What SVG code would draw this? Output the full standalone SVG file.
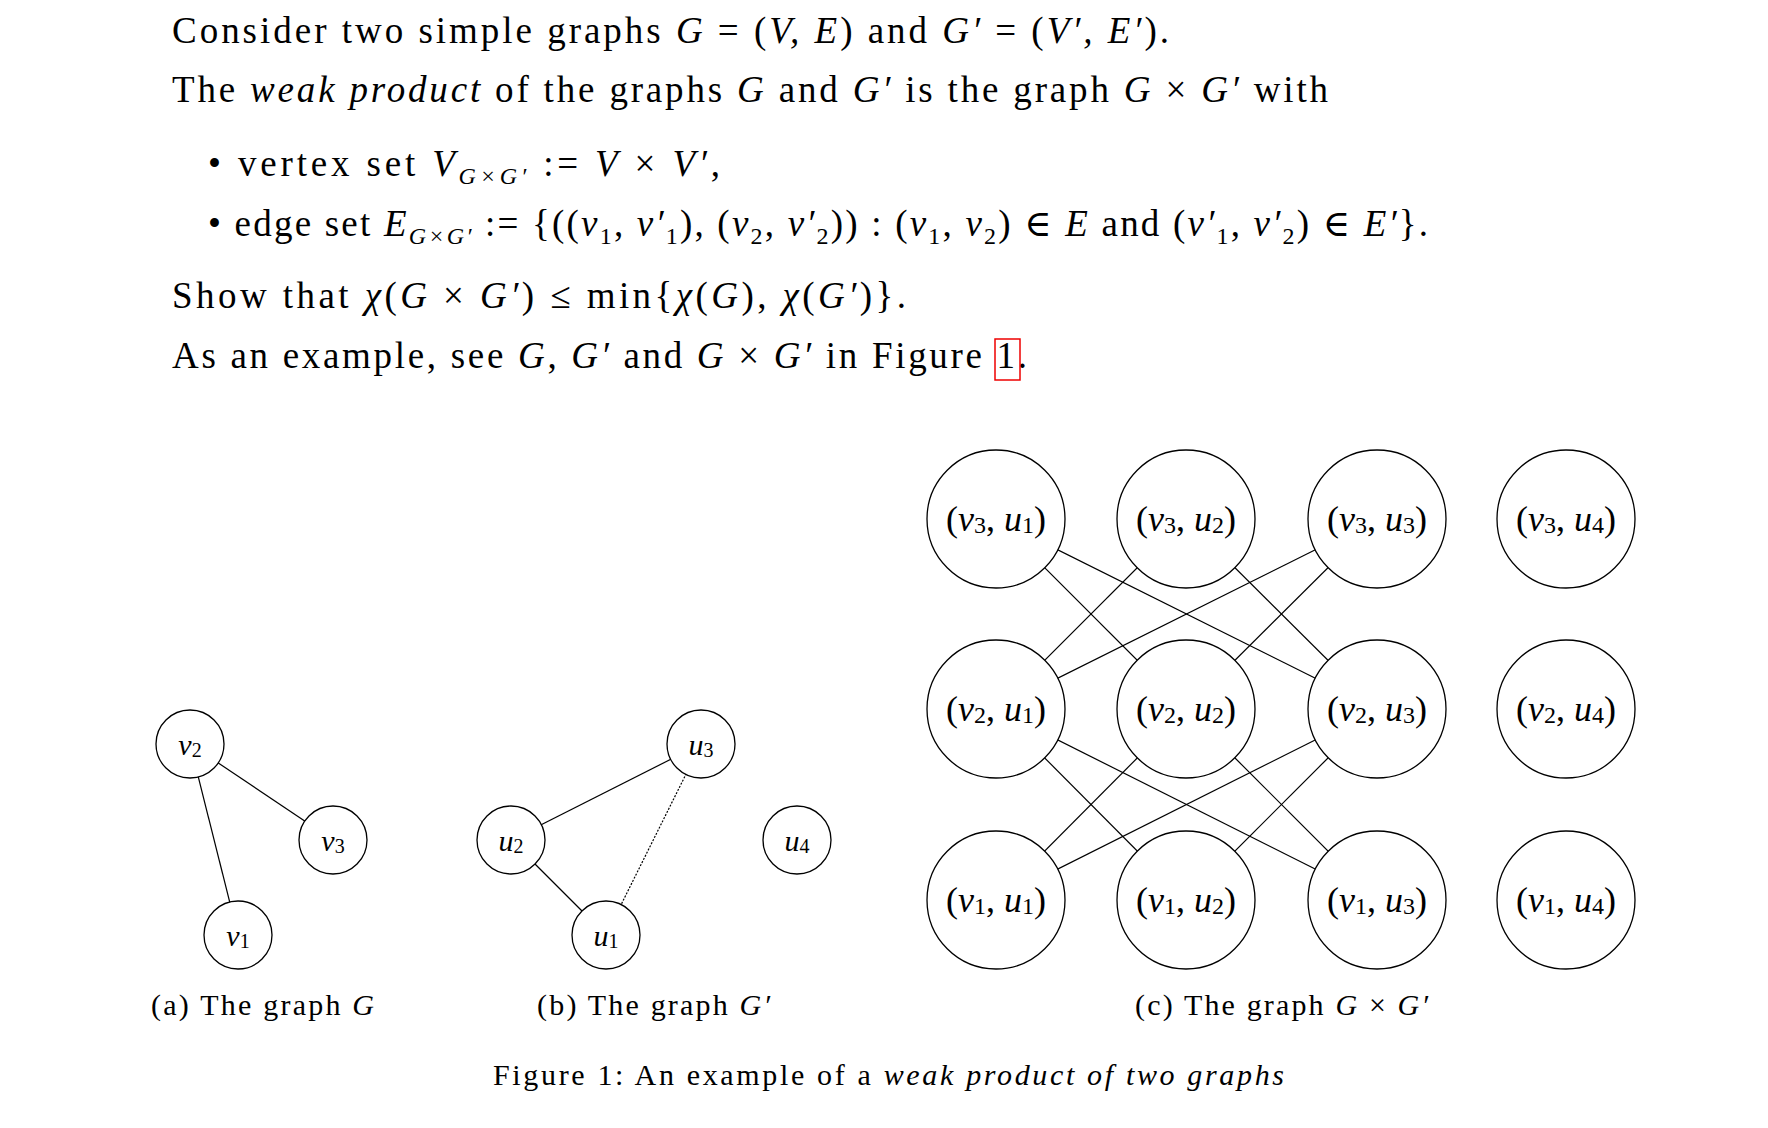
<svg xmlns="http://www.w3.org/2000/svg" width="1768" height="1128" viewBox="0 0 1768 1128">
<style>
text{font-family:"Liberation Serif","DejaVu Serif",serif;fill:#000}
.t{font-size:37px}
.i{font-style:italic}
.n{fill:#fff;stroke:#000;stroke-width:1.3}
.lbl{font-size:36px;text-anchor:middle;dominant-baseline:central}
.sl{font-size:30px;text-anchor:middle;dominant-baseline:central;font-style:italic}
.cap{font-size:30px}
.e line{stroke:#000;stroke-width:1.2}
</style>
<rect width="1768" height="1128" fill="#fff"/>
<g id="text">
<text class="t" x="172" y="43" textLength="997" lengthAdjust="spacing">Consider two simple graphs <tspan class="i">G</tspan> = (<tspan class="i">V, E</tspan>) and <tspan class="i">G′</tspan> = (<tspan class="i">V′, E′</tspan>).</text>
<text class="t" x="172" y="102" textLength="1156" lengthAdjust="spacing">The <tspan class="i">weak product</tspan> of the graphs <tspan class="i">G</tspan> and <tspan class="i">G′</tspan> is the graph <tspan class="i">G</tspan> × <tspan class="i">G′</tspan> with</text>
<text class="t" x="208" y="176" textLength="512" lengthAdjust="spacing">• vertex set <tspan class="i">V</tspan><tspan class="i" font-size="24" dy="8">G×G′</tspan><tspan dy="-8"> := </tspan><tspan class="i">V</tspan> × <tspan class="i">V′</tspan>,</text>
<text class="t" x="208" y="236" textLength="1220" lengthAdjust="spacing">• edge set <tspan class="i">E</tspan><tspan class="i" font-size="24" dy="8">G×G′</tspan><tspan dy="-8"> := {((</tspan><tspan class="i">v</tspan><tspan font-size="24" dy="8">1</tspan><tspan dy="-8">, </tspan><tspan class="i">v′</tspan><tspan font-size="24" dy="8">1</tspan><tspan dy="-8">), (</tspan><tspan class="i">v</tspan><tspan font-size="24" dy="8">2</tspan><tspan dy="-8">, </tspan><tspan class="i">v′</tspan><tspan font-size="24" dy="8">2</tspan><tspan dy="-8">)) : (</tspan><tspan class="i">v</tspan><tspan font-size="24" dy="8">1</tspan><tspan dy="-8">, </tspan><tspan class="i">v</tspan><tspan font-size="24" dy="8">2</tspan><tspan dy="-8">) ∈ </tspan><tspan class="i">E</tspan> and (<tspan class="i">v′</tspan><tspan font-size="24" dy="8">1</tspan><tspan dy="-8">, </tspan><tspan class="i">v′</tspan><tspan font-size="24" dy="8">2</tspan><tspan dy="-8">) ∈ </tspan><tspan class="i">E′</tspan>}.</text>
<text class="t" x="172" y="308" textLength="734" lengthAdjust="spacing">Show that <tspan class="i">χ</tspan>(<tspan class="i">G</tspan> × <tspan class="i">G′</tspan>) ≤ min{<tspan class="i">χ</tspan>(<tspan class="i">G</tspan>), <tspan class="i">χ</tspan>(<tspan class="i">G′</tspan>)}.</text>
<text class="t" x="172" y="368" textLength="855" lengthAdjust="spacing">As an example, see <tspan class="i">G</tspan>, <tspan class="i">G′</tspan> and <tspan class="i">G</tspan> × <tspan class="i">G′</tspan> in Figure 1.</text>
<rect x="995" y="339" width="25" height="41" fill="none" stroke="#e00" stroke-width="1.5"/>
</g>
<g id="connectors" class="e">
<line x1="190" y1="744" x2="333" y2="840"/>
<line x1="190" y1="744" x2="238" y2="935"/>
<line x1="511" y1="840" x2="701" y2="744"/>
<line x1="511" y1="840" x2="606" y2="935"/>
<line x1="606" y1="935" x2="701" y2="744" stroke-dasharray="2 1.5"/>
<line x1="996" y1="519" x2="1186" y2="709"/>
<line x1="996" y1="519" x2="1377" y2="709"/>
<line x1="1186" y1="519" x2="996" y2="709"/>
<line x1="1186" y1="519" x2="1377" y2="709"/>
<line x1="1377" y1="519" x2="996" y2="709"/>
<line x1="1377" y1="519" x2="1186" y2="709"/>
<line x1="996" y1="709" x2="1186" y2="900"/>
<line x1="996" y1="709" x2="1377" y2="900"/>
<line x1="1186" y1="709" x2="996" y2="900"/>
<line x1="1186" y1="709" x2="1377" y2="900"/>
<line x1="1377" y1="709" x2="996" y2="900"/>
<line x1="1377" y1="709" x2="1186" y2="900"/>
</g>
<g id="G">
<g id="v2"><circle class="n" cx="190" cy="744" r="34"/><text class="sl" x="190" y="744">v<tspan font-size="20" dy="6" font-style="normal">2</tspan></text></g>
<g id="v3"><circle class="n" cx="333" cy="840" r="34"/><text class="sl" x="333" y="840">v<tspan font-size="20" dy="6" font-style="normal">3</tspan></text></g>
<g id="v1"><circle class="n" cx="238" cy="935" r="34"/><text class="sl" x="238" y="935">v<tspan font-size="20" dy="6" font-style="normal">1</tspan></text></g>
</g>
<g id="Gp">
<g id="u2"><circle class="n" cx="511" cy="840" r="34"/><text class="sl" x="511" y="840">u<tspan font-size="20" dy="6" font-style="normal">2</tspan></text></g>
<g id="u3"><circle class="n" cx="701" cy="744" r="34"/><text class="sl" x="701" y="744">u<tspan font-size="20" dy="6" font-style="normal">3</tspan></text></g>
<g id="u1"><circle class="n" cx="606" cy="935" r="34"/><text class="sl" x="606" y="935">u<tspan font-size="20" dy="6" font-style="normal">1</tspan></text></g>
<g id="u4"><circle class="n" cx="797" cy="840" r="34"/><text class="sl" x="797" y="840">u<tspan font-size="20" dy="6" font-style="normal">4</tspan></text></g>
</g>
<g id="product">
<g id="v3u1"><circle class="n" cx="996" cy="519" r="69"/><text class="lbl" x="996" y="519">(<tspan class="i">v</tspan><tspan font-size="24" dy="6">3</tspan><tspan dy="-6">, </tspan><tspan class="i">u</tspan><tspan font-size="24" dy="6">1</tspan><tspan dy="-6">)</tspan></text></g>
<g id="v3u2"><circle class="n" cx="1186" cy="519" r="69"/><text class="lbl" x="1186" y="519">(<tspan class="i">v</tspan><tspan font-size="24" dy="6">3</tspan><tspan dy="-6">, </tspan><tspan class="i">u</tspan><tspan font-size="24" dy="6">2</tspan><tspan dy="-6">)</tspan></text></g>
<g id="v3u3"><circle class="n" cx="1377" cy="519" r="69"/><text class="lbl" x="1377" y="519">(<tspan class="i">v</tspan><tspan font-size="24" dy="6">3</tspan><tspan dy="-6">, </tspan><tspan class="i">u</tspan><tspan font-size="24" dy="6">3</tspan><tspan dy="-6">)</tspan></text></g>
<g id="v3u4"><circle class="n" cx="1566" cy="519" r="69"/><text class="lbl" x="1566" y="519">(<tspan class="i">v</tspan><tspan font-size="24" dy="6">3</tspan><tspan dy="-6">, </tspan><tspan class="i">u</tspan><tspan font-size="24" dy="6">4</tspan><tspan dy="-6">)</tspan></text></g>
<g id="v2u1"><circle class="n" cx="996" cy="709" r="69"/><text class="lbl" x="996" y="709">(<tspan class="i">v</tspan><tspan font-size="24" dy="6">2</tspan><tspan dy="-6">, </tspan><tspan class="i">u</tspan><tspan font-size="24" dy="6">1</tspan><tspan dy="-6">)</tspan></text></g>
<g id="v2u2"><circle class="n" cx="1186" cy="709" r="69"/><text class="lbl" x="1186" y="709">(<tspan class="i">v</tspan><tspan font-size="24" dy="6">2</tspan><tspan dy="-6">, </tspan><tspan class="i">u</tspan><tspan font-size="24" dy="6">2</tspan><tspan dy="-6">)</tspan></text></g>
<g id="v2u3"><circle class="n" cx="1377" cy="709" r="69"/><text class="lbl" x="1377" y="709">(<tspan class="i">v</tspan><tspan font-size="24" dy="6">2</tspan><tspan dy="-6">, </tspan><tspan class="i">u</tspan><tspan font-size="24" dy="6">3</tspan><tspan dy="-6">)</tspan></text></g>
<g id="v2u4"><circle class="n" cx="1566" cy="709" r="69"/><text class="lbl" x="1566" y="709">(<tspan class="i">v</tspan><tspan font-size="24" dy="6">2</tspan><tspan dy="-6">, </tspan><tspan class="i">u</tspan><tspan font-size="24" dy="6">4</tspan><tspan dy="-6">)</tspan></text></g>
<g id="v1u1"><circle class="n" cx="996" cy="900" r="69"/><text class="lbl" x="996" y="900">(<tspan class="i">v</tspan><tspan font-size="24" dy="6">1</tspan><tspan dy="-6">, </tspan><tspan class="i">u</tspan><tspan font-size="24" dy="6">1</tspan><tspan dy="-6">)</tspan></text></g>
<g id="v1u2"><circle class="n" cx="1186" cy="900" r="69"/><text class="lbl" x="1186" y="900">(<tspan class="i">v</tspan><tspan font-size="24" dy="6">1</tspan><tspan dy="-6">, </tspan><tspan class="i">u</tspan><tspan font-size="24" dy="6">2</tspan><tspan dy="-6">)</tspan></text></g>
<g id="v1u3"><circle class="n" cx="1377" cy="900" r="69"/><text class="lbl" x="1377" y="900">(<tspan class="i">v</tspan><tspan font-size="24" dy="6">1</tspan><tspan dy="-6">, </tspan><tspan class="i">u</tspan><tspan font-size="24" dy="6">3</tspan><tspan dy="-6">)</tspan></text></g>
<g id="v1u4"><circle class="n" cx="1566" cy="900" r="69"/><text class="lbl" x="1566" y="900">(<tspan class="i">v</tspan><tspan font-size="24" dy="6">1</tspan><tspan dy="-6">, </tspan><tspan class="i">u</tspan><tspan font-size="24" dy="6">4</tspan><tspan dy="-6">)</tspan></text></g>
</g>
<g id="captions">
<text class="cap" x="151" y="1015" textLength="223" lengthAdjust="spacing">(a) The graph <tspan class="i">G</tspan></text>
<text class="cap" x="537" y="1015" textLength="233" lengthAdjust="spacing">(b) The graph <tspan class="i">G′</tspan></text>
<text class="cap" x="1135" y="1015" textLength="293" lengthAdjust="spacing">(c) The graph <tspan class="i">G</tspan> × <tspan class="i">G′</tspan></text>
<text class="cap" x="493" y="1085" textLength="791" lengthAdjust="spacing">Figure 1: An example of a <tspan class="i">weak product of two graphs</tspan></text>
</g>
</svg>
